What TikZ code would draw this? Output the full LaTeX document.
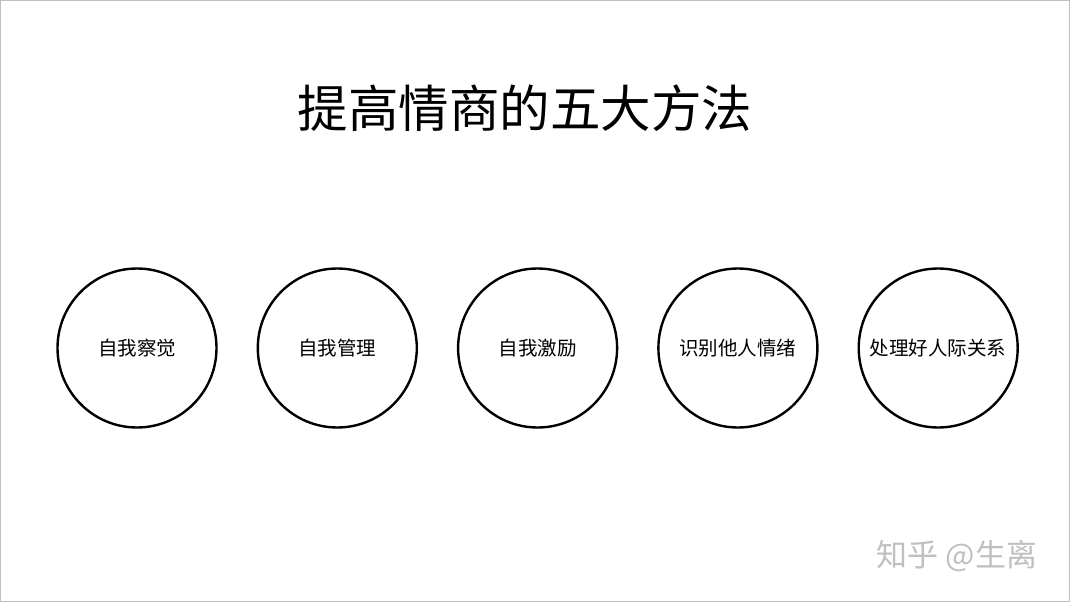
\documentclass[tikz,border=0pt]{standalone}
\usepackage{fontspec}
\setmainfont{Noto Sans CJK SC}
\newcommand{\methodRadius}{79.5pt}

\begin{document}
\begin{tikzpicture}[x=1pt,y=-1pt]
  \tikzset{method/.style={draw,circle,line width=2.4pt,minimum size=2*\methodRadius,
      inner sep=0pt,font=\fontsize{19.5}{22}\selectfont},
    title/.style={font=\fontsize{50.5}{56}\selectfont},
    mark text/.style={font=\fontsize{31}{36}\selectfont,text=black!25}}
  \useasboundingbox (0,0) rectangle (1070,602);
  \draw[black!25,line width=1pt] (0.5,0.5) rectangle (1069.5,601.5);
  \node[title] (heading) at (525,108) {提高情商的五大方法};
  \foreach \i/\name in {1/自我察觉,2/自我管理,3/自我激励,4/识别他人情绪,5/处理好人际关系}
    \node[method] (m\i) at (137+200.3*\i-200.3,348) {\name};
  \node[mark text] (mark) at (957,556) {知乎 @生离};
\end{tikzpicture}
\end{document}
